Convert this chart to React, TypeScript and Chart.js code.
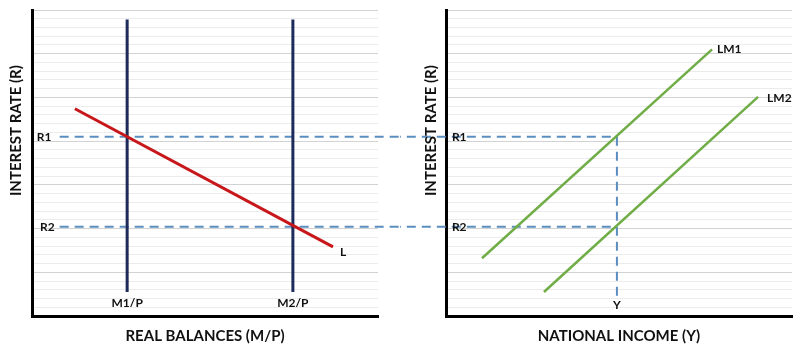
import React, { useEffect, useRef } from "react";
import { Chart, registerables } from "chart.js";

Chart.register(...registerables);

// ---- data ----
const Y_MIN = 0;
const Y_MAX = 35;
const X_MIN = 0;
const X_MAX = 100;

const R_LEVELS = [20.5, 10.2]; // R1, R2
const R_LABELS = ["R1", "R2"];

const MP_X = [27.5, 75.4]; // M1/P, M2/P
const MP_LABELS = ["M1/P", "M2/P"];
const MP_Y_RANGE = [2.75, 33.9];

const L_X = [12.4, 87];
const L_Y = [23.7, 7.9];

const LM1_X = [10.4, 76.9];
const LM1_Y = [6.6, 30.5];
const LM2_X = [28.3, 90.2];
const LM2_Y = [2.75, 25.06];

const Y_STAR = 49.4; // national income Y
const Y_DROP_END = 1.8;

const DASH_LEFT_START = [8, 8];
const DASH_LEFT_END = 115;
const DASH_RIGHT_START = -20;

const Y_TITLE = "INTEREST RATE (R)";
const FONT = "Lato, 'Open Sans', sans-serif";

const labelPlugin = {
  id: "pointLabels",
  afterDatasetsDraw(chart: any, _args: any, opts: any) {
    const { ctx } = chart;
    const x = chart.scales.x;
    const y = chart.scales.y;
    ctx.save();
    ctx.font = `bold 12px ${FONT}`;
    ctx.fillStyle = "#111";
    ctx.textBaseline = "middle";
    for (const l of opts.items || []) {
      ctx.textAlign = l.align;
      ctx.fillText(l.text, x.getPixelForValue(l.x), y.getPixelForValue(l.y));
    }
    // rotated y-axis title
    if (opts.yTitle) {
      ctx.save();
      ctx.translate(opts.yTitle.x, y.getPixelForValue(opts.yTitle.value));
      ctx.rotate(-Math.PI / 2);
      ctx.font = `bold 15px ${FONT}`;
      ctx.textAlign = "center";
      ctx.fillText(opts.yTitle.text, 0, 0);
      ctx.restore();
    }
    ctx.restore();
  },
};

const gridValues: number[] = [];
for (let v = Y_MIN; v <= Y_MAX; v++) gridValues.push(v);

function line(data: { x: number; y: number }[], color: string, width: number, dashed = false, order = 0) {
  return {
    data,
    showLine: true,
    borderColor: color,
    backgroundColor: color,
    borderWidth: width,
    borderDash: dashed ? [9, 6] : [],
    pointRadius: 0,
    pointHoverRadius: 0,
    clip: false as any,
    order,
  };
}

function makeOptions(xTitle: string, pad: any, items: any[], yTitle: any) {
  return {
    responsive: false,
    animation: false as const,
    layout: { padding: pad },
    plugins: {
      legend: { display: false },
      tooltip: { enabled: false },
      pointLabels: { items, yTitle },
    },
    scales: {
      x: {
        type: "linear" as const,
        min: X_MIN,
        max: X_MAX,
        grid: { display: false, drawTicks: false },
        ticks: { display: false },
        border: { display: true, color: "#000", width: 3 },
        title: {
          display: true,
          text: xTitle,
          color: "#111",
          font: { family: FONT, size: 15, weight: "bold" as const },
          padding: { top: 11, bottom: 6 },
        },
      },
      y: {
        type: "linear" as const,
        min: Y_MIN,
        max: Y_MAX,
        afterBuildTicks: (s: any) => {
          s.ticks = gridValues.map((v) => ({ value: v }));
        },
        grid: {
          drawTicks: false,
          color: (c: any) => (c.tick && c.tick.value % 5 === 0 ? "#d2d2d2" : "#ececec"),
          lineWidth: 1,
        },
        ticks: { display: false },
        border: { display: true, color: "#000", width: 3 },
        title: { display: false },
      },
    },
  };
}

function LeftChart() {
  const ref = useRef<HTMLCanvasElement>(null);
  useEffect(() => {
    const datasets = [
      line([{ x: MP_X[0], y: MP_Y_RANGE[0] }, { x: MP_X[0], y: MP_Y_RANGE[1] }], "#1c2b5a", 3, false, 1),
      line([{ x: MP_X[1], y: MP_Y_RANGE[0] }, { x: MP_X[1], y: MP_Y_RANGE[1] }], "#1c2b5a", 3, false, 1),
      line([{ x: L_X[0], y: L_Y[0] }, { x: L_X[1], y: L_Y[1] }], "#c8171b", 3, false, 0),
      line([{ x: DASH_LEFT_START[0], y: R_LEVELS[0] }, { x: DASH_LEFT_END, y: R_LEVELS[0] }], "#5b8ec0", 2, true, 2),
      line([{ x: DASH_LEFT_START[1], y: R_LEVELS[1] }, { x: DASH_LEFT_END, y: R_LEVELS[1] }], "#5b8ec0", 2, true, 2),
    ];
    const items = [
      { text: R_LABELS[0], x: 1.4, y: R_LEVELS[0], align: "left" },
      { text: R_LABELS[1], x: 2.3, y: R_LEVELS[1], align: "left" },
      { text: MP_LABELS[0], x: MP_X[0], y: 1.5, align: "center" },
      { text: MP_LABELS[1], x: MP_X[1], y: 1.5, align: "center" },
      { text: "L", x: L_X[1] + 2, y: L_Y[1] - 0.6, align: "left" },
    ];
    const chart = new Chart(ref.current!, {
      type: "scatter",
      data: { datasets: datasets as any },
      options: makeOptions(
        "REAL BALANCES (M/P)",
        { top: 10, left: 32, right: 22, bottom: 0 },
        items,
        { text: Y_TITLE, x: 16, value: 21.2 }
      ) as any,
      plugins: [labelPlugin as any],
    });
    return () => chart.destroy();
  }, []);
  return <canvas ref={ref} width={400} height={351} style={{ display: "block" }} />;
}

function RightChart() {
  const ref = useRef<HTMLCanvasElement>(null);
  useEffect(() => {
    const datasets = [
      line([{ x: LM1_X[0], y: LM1_Y[0] }, { x: LM1_X[1], y: LM1_Y[1] }], "#70ad47", 2.5, false, 0),
      line([{ x: LM2_X[0], y: LM2_Y[0] }, { x: LM2_X[1], y: LM2_Y[1] }], "#70ad47", 2.5, false, 0),
      line(
        [
          { x: DASH_RIGHT_START, y: R_LEVELS[0] },
          { x: Y_STAR, y: R_LEVELS[0] },
          { x: Y_STAR, y: Y_DROP_END },
        ],
        "#5b8ec0",
        2,
        true,
        2
      ),
      line([{ x: DASH_RIGHT_START, y: R_LEVELS[1] }, { x: Y_STAR, y: R_LEVELS[1] }], "#5b8ec0", 2, true, 2),
    ];
    const items = [
      { text: R_LABELS[0], x: 1.7, y: R_LEVELS[0], align: "left" },
      { text: R_LABELS[1], x: 1.7, y: R_LEVELS[1], align: "left" },
      { text: "Y", x: Y_STAR, y: 1.25, align: "center" },
      { text: "LM1", x: LM1_X[1] + 1.4, y: LM1_Y[1], align: "left" },
      { text: "LM2", x: LM2_X[1] + 2.6, y: LM2_Y[1] - 0.1, align: "left" },
    ];
    const chart = new Chart(ref.current!, {
      type: "scatter",
      data: { datasets: datasets as any },
      options: makeOptions(
        "NATIONAL INCOME (Y)",
        { top: 10, left: 46, right: 8, bottom: 0 },
        items,
        { text: Y_TITLE, x: 31, value: 21.2 }
      ) as any,
      plugins: [labelPlugin as any],
    });
    return () => chart.destroy();
  }, []);
  return <canvas ref={ref} width={400} height={351} style={{ display: "block" }} />;
}

export default function App() {
  return (
    <div
      style={{
        position: "fixed",
        top: 0,
        left: 0,
        width: 800,
        height: 351,
        display: "flex",
        background: "#fff",
      }}
    >
      <LeftChart />
      <RightChart />
    </div>
  );
}
